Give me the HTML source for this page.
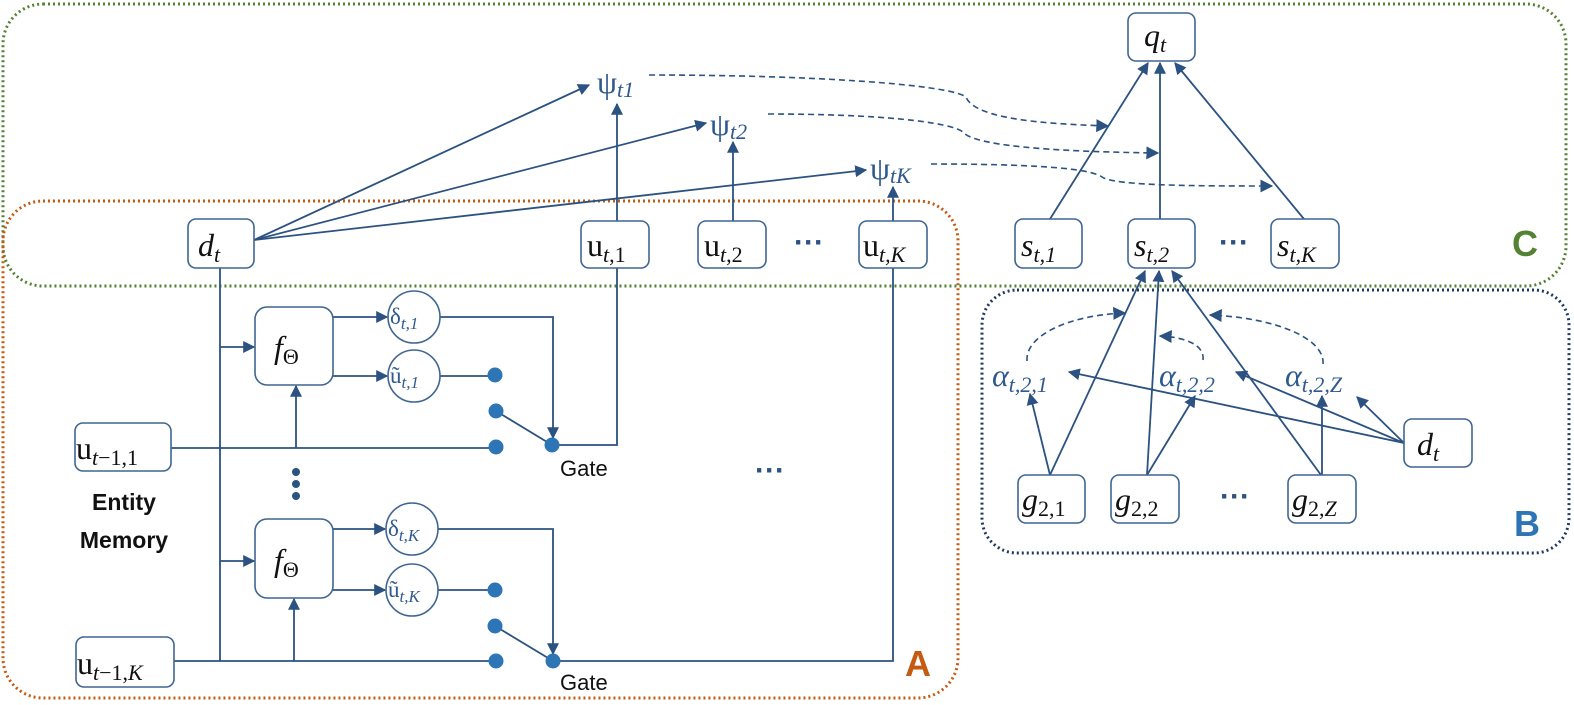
<!DOCTYPE html>
<html><head><meta charset="utf-8"><style>
html,body{margin:0;padding:0;background:#fff;}
svg{display:block;}
.n{fill:#fff;stroke:#3f6590;stroke-width:1.6;}
.l{stroke:#2b5281;stroke-width:1.8;fill:none;}
.d{stroke:#2b5281;stroke-width:1.6;fill:none;stroke-dasharray:6 4;}
.t{font-family:"Liberation Serif",serif;font-style:italic;fill:#111;font-size:32px;}
.u{font-family:"Liberation Serif",serif;fill:#111;font-size:32px;}
.b{font-family:"Liberation Serif",serif;fill:#2f5a8f;font-size:32px;}
.s{font-size:22px;}
.g{font-family:"Liberation Sans",sans-serif;font-size:22px;fill:#111;}
.e{font-family:"Liberation Sans",sans-serif;font-weight:bold;font-size:30px;fill:#2b5281;}
</style></head><body>
<svg width="1574" height="705" viewBox="0 0 1574 705" xmlns="http://www.w3.org/2000/svg">
<defs>
<marker id="a" viewBox="0 0 10 10" refX="9" refY="5" markerWidth="12" markerHeight="12" markerUnits="userSpaceOnUse" orient="auto"><path d="M0,0 L10,5 L0,10 z" fill="#2b5281"/></marker>
<marker id="ad" viewBox="0 0 10 10" refX="9" refY="5" markerWidth="13" markerHeight="13" markerUnits="userSpaceOnUse" orient="auto"><path d="M0,0 L10,5 L0,10 z" fill="#2b5281"/></marker>
</defs>
<rect x="3" y="4" width="1563" height="282" rx="40" fill="none" stroke="#548235" stroke-width="3" stroke-dasharray="2 3"/>
<rect x="3" y="201" width="955" height="497" rx="40" fill="none" stroke="#c55a11" stroke-width="3" stroke-dasharray="2 3"/>
<rect x="982" y="290" width="587" height="263" rx="35" fill="none" stroke="#203864" stroke-width="3" stroke-dasharray="2 3"/>
<text x="1512" y="256" font-family="Liberation Sans,sans-serif" font-weight="bold" font-size="36" fill="#548235">C</text>
<text x="1514" y="536" font-family="Liberation Sans,sans-serif" font-weight="bold" font-size="36" fill="#2e75b6">B</text>
<text x="905" y="676" font-family="Liberation Sans,sans-serif" font-weight="bold" font-size="36" fill="#c55a11">A</text>

<line class="l" x1="220" y1="268" x2="220" y2="661"/>
<line class="l" x1="171" y1="448" x2="496" y2="448"/>
<line class="l" x1="174" y1="661" x2="496" y2="661"/>
<line class="l" x1="220" y1="347" x2="254" y2="347" marker-end="url(#a)"/>
<line class="l" x1="220" y1="561" x2="254" y2="561" marker-end="url(#a)"/>
<line class="l" x1="296" y1="448" x2="296" y2="386" marker-end="url(#a)"/>
<line class="l" x1="294" y1="661" x2="294" y2="599" marker-end="url(#a)"/>
<line class="l" x1="333" y1="317" x2="387" y2="317" marker-end="url(#a)"/>
<line class="l" x1="333" y1="376" x2="387" y2="376" marker-end="url(#a)"/>
<line class="l" x1="333" y1="529" x2="385" y2="529" marker-end="url(#a)"/>
<line class="l" x1="333" y1="590" x2="385" y2="590" marker-end="url(#a)"/>
<polyline class="l" points="440,317 553,317 553,438" marker-end="url(#a)"/>
<polyline class="l" points="438,529 553,529 553,654" marker-end="url(#a)"/>
<line class="l" x1="440" y1="376" x2="495" y2="376"/>
<line class="l" x1="438" y1="590" x2="495" y2="590"/>
<line class="l" x1="496" y1="411" x2="552" y2="445"/>
<line class="l" x1="495" y1="626" x2="553" y2="661"/>
<polyline class="l" points="552,445 617,445 617,268"/>
<polyline class="l" points="553,661 893,661 893,268"/>
<g fill="#2e75b6">
<circle cx="495" cy="375" r="7.5"/><circle cx="496" cy="411" r="7.5"/><circle cx="496" cy="447" r="7.5"/><circle cx="552" cy="445" r="7.5"/>
<circle cx="495" cy="590" r="7.5"/><circle cx="495" cy="626" r="7.5"/><circle cx="496" cy="661" r="7.5"/><circle cx="553" cy="661" r="7.5"/>
<circle cx="296" cy="472" r="4" fill="#2b5281"/><circle cx="296" cy="484" r="4" fill="#2b5281"/><circle cx="296" cy="496" r="4" fill="#2b5281"/>
</g>
<text class="g" x="560" y="476">Gate</text>
<text class="g" x="560" y="690">Gate</text>
<text class="e" x="770" y="480" text-anchor="middle">···</text>
<text x="124" y="510" text-anchor="middle" font-family="Liberation Sans,sans-serif" font-weight="bold" font-size="23" fill="#111">Entity</text>
<text x="124" y="548" text-anchor="middle" font-family="Liberation Sans,sans-serif" font-weight="bold" font-size="23" fill="#111">Memory</text>

<line class="l" x1="254" y1="240" x2="589" y2="85" marker-end="url(#a)"/>
<line class="l" x1="254" y1="240" x2="706" y2="123" marker-end="url(#a)"/>
<line class="l" x1="254" y1="240" x2="866" y2="170" marker-end="url(#a)"/>
<line class="l" x1="617" y1="221" x2="617" y2="104" marker-end="url(#a)"/>
<line class="l" x1="733" y1="221" x2="733" y2="142" marker-end="url(#a)"/>
<line class="l" x1="893" y1="221" x2="893" y2="187" marker-end="url(#a)"/>
<line class="l" x1="1050" y1="219" x2="1148" y2="63" marker-end="url(#a)"/>
<line class="l" x1="1160" y1="219" x2="1160" y2="63" marker-end="url(#a)"/>
<line class="l" x1="1304" y1="219" x2="1175" y2="63" marker-end="url(#a)"/>
<path class="d" d="M649,75 C820,75 950,85 966,97 C975,120 1050,124 1108,126" marker-end="url(#ad)"/>
<path class="d" d="M768,114 C880,114 950,122 963,132 C975,148 1080,152 1158,153" marker-end="url(#ad)"/>
<path class="d" d="M931,164 C1030,164 1090,168 1102,177 C1115,186 1200,186 1272,186" marker-end="url(#ad)"/>
<text class="e" x="1234" y="252" text-anchor="middle">···</text>
<text class="e" x="809" y="252" text-anchor="middle">···</text>

<line class="l" x1="1050" y1="475" x2="1030" y2="394" marker-end="url(#a)"/>
<line class="l" x1="1050" y1="475" x2="1145" y2="271" marker-end="url(#a)"/>
<line class="l" x1="1147" y1="475" x2="1159" y2="271" marker-end="url(#a)"/>
<line class="l" x1="1147" y1="475" x2="1195" y2="396" marker-end="url(#a)"/>
<line class="l" x1="1321" y1="475" x2="1172" y2="271" marker-end="url(#a)"/>
<line class="l" x1="1322" y1="475" x2="1322" y2="396" marker-end="url(#a)"/>
<line class="l" x1="1404" y1="443" x2="1069" y2="372" marker-end="url(#a)"/>
<line class="l" x1="1404" y1="443" x2="1236" y2="372" marker-end="url(#a)"/>
<line class="l" x1="1404" y1="443" x2="1357" y2="397" marker-end="url(#a)"/>
<path class="d" d="M1027,361 C1025,335 1070,315 1125,313" marker-end="url(#ad)"/>
<path class="d" d="M1203,360 C1205,345 1185,337 1160,336" marker-end="url(#ad)"/>
<path class="d" d="M1323,364 C1325,340 1280,318 1210,315" marker-end="url(#ad)"/>
<text class="e" x="1235" y="506" text-anchor="middle">···</text>

<rect class="n" x="188" y="219" width="66" height="49" rx="8"/>
<text class="t" x="198" y="256">d<tspan class="s" dy="6">t</tspan></text>
<rect class="n" x="581" y="221" width="68" height="47" rx="8"/>
<text class="u" x="587" y="256">u<tspan class="s" font-style="italic" dy="6">t</tspan><tspan class="s">,1</tspan></text>
<rect class="n" x="698" y="221" width="68" height="47" rx="8"/>
<text class="u" x="704" y="256">u<tspan class="s" font-style="italic" dy="6">t</tspan><tspan class="s">,2</tspan></text>
<rect class="n" x="859" y="221" width="68" height="47" rx="8"/>
<text class="u" x="863" y="256">u<tspan class="s" font-style="italic" dy="6">t,K</tspan></text>
<rect class="n" x="255" y="307" width="78" height="78" rx="12"/>
<text class="t" x="274" y="358" font-size="36">f<tspan class="s" font-style="normal" dy="6">Θ</tspan></text>
<rect class="n" x="255" y="519" width="78" height="79" rx="12"/>
<text class="t" x="274" y="571" font-size="36">f<tspan class="s" font-style="normal" dy="6">Θ</tspan></text>
<g font-family="Liberation Serif,serif" font-size="23" fill="#2f5a8f">
<circle class="n" cx="414" cy="317" r="26"/><text x="390" y="324">δ<tspan font-size="17" font-style="italic" dy="5">t,1</tspan></text>
<circle class="n" cx="414" cy="376" r="26"/><text x="390" y="383">ũ<tspan font-size="17" font-style="italic" dy="5">t,1</tspan></text>
<circle class="n" cx="412" cy="529" r="26"/><text x="388" y="536">δ<tspan font-size="17" font-style="italic" dy="5">t,K</tspan></text>
<circle class="n" cx="412" cy="590" r="26"/><text x="388" y="597">ũ<tspan font-size="17" font-style="italic" dy="5">t,K</tspan></text>
</g>
<rect class="n" x="75" y="423" width="96" height="48" rx="8"/>
<text class="u" x="76" y="459">u<tspan class="s" font-style="italic" dy="6">t</tspan><tspan class="s">−1,1</tspan></text>
<rect class="n" x="76" y="637" width="98" height="50" rx="8"/>
<text class="u" x="77" y="674">u<tspan class="s" font-style="italic" dy="6">t</tspan><tspan class="s">−1,</tspan><tspan class="s" font-style="italic">K</tspan></text>

<text class="b" x="597" y="93">ψ<tspan class="s" font-style="italic" dy="4">t1</tspan></text>
<text class="b" x="710" y="135">ψ<tspan class="s" font-style="italic" dy="4">t2</tspan></text>
<text class="b" x="870" y="179">ψ<tspan class="s" font-style="italic" dy="4">tK</tspan></text>

<rect class="n" x="1128" y="13" width="67" height="48" rx="8"/>
<text class="t" x="1144" y="46">q<tspan class="s" dy="6">t</tspan></text>
<rect class="n" x="1015" y="219" width="67" height="49" rx="8"/>
<text class="t" x="1021" y="256">s<tspan class="s" dy="6">t,1</tspan></text>
<rect class="n" x="1128" y="219" width="67" height="49" rx="8"/>
<text class="t" x="1134" y="256">s<tspan class="s" dy="6">t,2</tspan></text>
<rect class="n" x="1271" y="219" width="68" height="49" rx="8"/>
<text class="t" x="1277" y="256">s<tspan class="s" dy="6">t,K</tspan></text>

<text class="b" font-style="italic" x="992" y="386">α<tspan class="s" dy="6">t,2,1</tspan></text>
<text class="b" font-style="italic" x="1159" y="386">α<tspan class="s" dy="6">t,2,2</tspan></text>
<text class="b" font-style="italic" x="1285" y="386">α<tspan class="s" dy="6">t,2,Z</tspan></text>

<rect class="n" x="1018" y="475" width="67" height="48" rx="8"/>
<text class="t" x="1022" y="510">g<tspan class="s" font-style="normal" dy="6">2,1</tspan></text>
<rect class="n" x="1111" y="475" width="68" height="48" rx="8"/>
<text class="t" x="1115" y="510">g<tspan class="s" font-style="normal" dy="6">2,2</tspan></text>
<rect class="n" x="1288" y="475" width="68" height="48" rx="8"/>
<text class="t" x="1292" y="510">g<tspan class="s" font-style="normal" dy="6">2,<tspan font-style="italic">Z</tspan></tspan></text>
<rect class="n" x="1404" y="419" width="68" height="48" rx="8"/>
<text class="t" x="1417" y="455">d<tspan class="s" dy="6">t</tspan></text>
</svg>
</body></html>
